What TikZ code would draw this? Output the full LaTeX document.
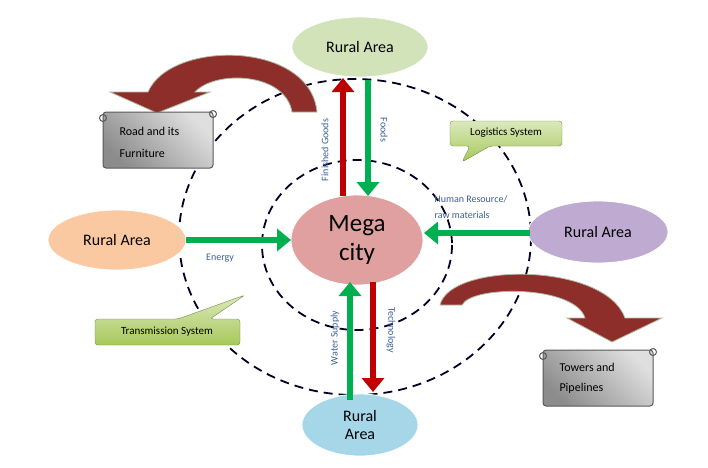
\documentclass[tikz,border=0pt]{standalone}
\usepackage{fontspec}
\setmainfont{Carlito}
\usetikzlibrary{shapes.geometric,arrows.meta}
\definecolor{tg}{HTML}{D3E3B9}
\definecolor{lp}{HTML}{FBC9A1}
\definecolor{lv}{HTML}{BFAAD1}
\definecolor{lb}{HTML}{A5D7E8}
\definecolor{pk}{HTML}{DFA09F}
\definecolor{ag}{HTML}{00B050}
\definecolor{ar}{HTML}{C00000}
\definecolor{dr}{HTML}{8E2E2B}
\definecolor{lbl}{HTML}{3B5E9A}
\definecolor{cg}{HTML}{A6C85A}
\tikzset{
 area/.style={ellipse,draw=white,line width=0.8pt,minimum width=#1,inner sep=0pt,font=\fontsize{16}{18}\selectfont,align=center},
 garr/.style={draw=ag,line width=6pt,-{Triangle[length=14pt,width=22pt]}},
 rarr/.style={draw=ar,line width=6pt,-{Triangle[length=14pt,width=22pt]}},
 lab/.style={font=\fontsize{10}{12}\selectfont,text=lbl},
 dashring/.style={draw=black!85!blue,line width=1.8pt,dash pattern=on 9pt off 6pt},
 scroll/.style={draw=gray!70!black,line width=1pt,rounded corners=3pt,top color=gray!90,bottom color=gray!25,shading angle=135},
 callout/.style={draw=cg!70!black,top color=white!60!cg,bottom color=cg,rounded corners=3pt},
 bigarr/.style={fill=dr,draw=tg!60!gray,line width=0.8pt}
}
\begin{document}
\begin{tikzpicture}[x=1pt,y=-1pt]
\useasboundingbox (0,0) rectangle (708,467);
% dashed circles
\draw[dashring] (355,237) ellipse (176 and 158);
\draw[dashring] (357,245) ellipse (95 and 85);
% big curved arrows
\path[bigarr] (292,112) .. controls (285,72) and (215,70) .. (195,92) -- (210,92) -- (157,113) -- (110,92) -- (148,92) .. controls (170,40) and (310,40) .. (317,112) -- cycle;
\path[bigarr] (462,305) .. controls (472,285) and (575,285) .. (585,318) -- (567,318) -- (612,342) -- (662,318) -- (625,318) .. controls (605,262) and (450,262) .. (440,305) -- cycle;
% ellipses
\node[area=136pt,minimum height=60pt,fill=tg] (top) at (360,47) {Rural Area};
\node[area=138pt,minimum height=60pt,fill=lp] (left) at (117,240) {Rural Area};
\node[area=140pt,minimum height=62pt,fill=lv] (right) at (598,232) {Rural Area};
\node[area=116pt,minimum height=62pt,fill=lb] (bot) at (360,425) {Rural\\Area};
\node[area=132pt,minimum height=90pt,fill=pk,font=\fontsize{25}{29}\selectfont] (mega) at (357,240) {Mega\\city};
% arrows
\draw[rarr] (343,196) -- (343,78);
\draw[garr] (368,80) -- (368,196);
\draw[garr] (186,240) -- (291,240);
\draw[garr] (530,233) -- (424,233);
\draw[garr] (350,400) -- (350,282);
\draw[rarr] (373,282) -- (373,392);
% labels
\node[lab,rotate=90] (fg) at (325,150) {Finished Goods};
\node[lab,rotate=-90] (fd) at (384,130) {Foods};
\node[lab,rotate=90] (ws) at (335,338) {Water Supply};
\node[lab,rotate=-90] (tc) at (391,330) {Technology};
\node[lab] (en) at (220,258) {Energy};
\node[lab,align=left,anchor=west,font=\fontsize{10}{16}\selectfont] (hr) at (431,207) {Human Resource/\\raw materials};
% scrolls
\path[scroll] (103,112) rectangle (213,168);
\draw[gray!70!black,line width=1pt] (103,118) circle (3.5) (213,114) circle (3.5);
\node[font=\fontsize{12}{22}\selectfont,align=left,anchor=west] (road) at (116,142) {Road and its\\Furniture};
\path[scroll] (543,350) rectangle (653,406);
\draw[gray!70!black,line width=1pt] (543,356) circle (3.5) (653,352) circle (3.5);
\node[font=\fontsize{12}{20}\selectfont,align=left,anchor=west] (tow) at (556,378) {Towers and\\Pipelines};
% callouts
\path[callout] (450,121) -- (562,121) -- (562,146) -- (490,146) -- (462,162) -- (470,146) -- (450,146) -- cycle;
\node[font=\fontsize{11}{13}\selectfont] (log) at (506,133) {Logistics System};
\path[callout] (95,319) -- (178,319) -- (245,295) -- (210,319) -- (240,319) -- (240,345) -- (95,345) -- cycle;
\node[font=\fontsize{11}{13}\selectfont] (trs) at (167,332) {Transmission System};
\end{tikzpicture}
\end{document}
